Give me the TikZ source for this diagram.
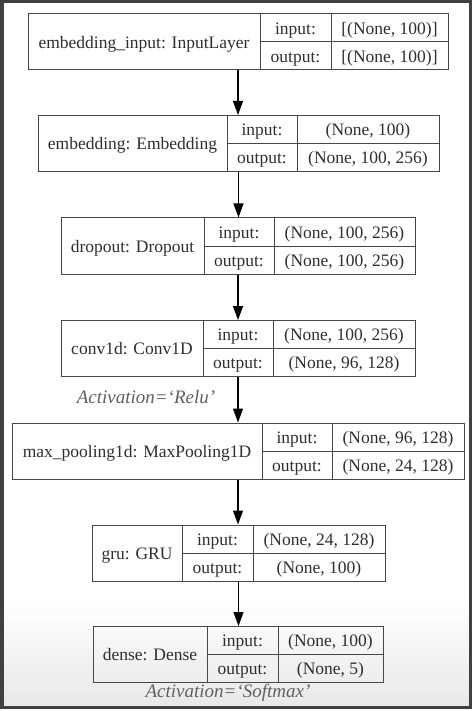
\documentclass[tikz,border=0pt]{standalone}
\usepackage{fontspec}
\setmainfont{Liberation Serif}
\usetikzlibrary{arrows.meta}
\colorlet{linecol}{black!72}
\colorlet{textcol}{black!82}
\tikzset{
	layerbox/.style={rectangle,draw=linecol,line width=1pt,inner sep=0pt,minimum height=56pt},
	cell/.style={rectangle,draw=linecol,line width=1pt,inner sep=0pt,minimum height=28pt,
		text=textcol,text height=12.5pt,text depth=0pt,font=\fontsize{17.5}{20}\selectfont},
	namecell/.style={cell,minimum height=56pt},
	actlabel/.style={text=black!62,inner sep=0pt,font=\fontsize{19}{22}\selectfont\itshape},
	flow/.style={draw=black,line width=1.2pt,-{Triangle[length=14pt,width=10pt]}},
}

\begin{document}
\begin{tikzpicture}[x=1pt,y=-1pt]
 \useasboundingbox (0,0) rectangle (474,711);
 \shade[top color=white,bottom color=black!9] (3,600) rectangle (469,706);
 \draw[line width=3.5pt,black!75] (1.75,1.75) rectangle (470.5,707.5);

 % layers: number/left/divider1/divider2/right/top/name/input/output
 \foreach \n/\xa/\xb/\xc/\xd/\yt/\name/\vin/\vout in {
	1/28/260/331/448/14/{embedding\_input: InputLayer}/{[(None, 100)]}/{[(None, 100)]},
	2/38/227/297/439/115.5/{embedding: Embedding}/{(None, 100)}/{(None, 100, 256)},
	3/61/204/274/415/218/{dropout: Dropout}/{(None, 100, 256)}/{(None, 100, 256)},
	4/61/203/273/415/320.5/{conv1d: Conv1D}/{(None, 100, 256)}/{(None, 96, 128)},
	5/12/262/332/464/423/{max\_pooling1d: MaxPooling1D}/{(None, 96, 128)}/{(None, 24, 128)},
	6/92/182/253/385/525/{gru: GRU}/{(None, 24, 128)}/{(None, 100)},
	7/93/207/278/383/626.5/{dense: Dense}/{(None, 100)}/{(None, 5)}}
 {
	\pgfmathsetmacro\wt{\xd-\xa}
	\pgfmathsetmacro\wa{\xb-\xa}
	\pgfmathsetmacro\wb{\xc-\xb}
	\pgfmathsetmacro\wc{\xd-\xc}
	\node[layerbox,minimum width=\wt pt] (L\n) at ({(\xa+\xd)/2},\yt+28) {};
	\node[namecell,minimum width=\wa pt] (name\n) at ({(\xa+\xb)/2},\yt+28) {\name};
	\node[cell,minimum width=\wb pt] (inl\n) at ({(\xb+\xc)/2},\yt+14) {input:};
	\node[cell,minimum width=\wb pt] (outl\n) at ({(\xb+\xc)/2},\yt+42) {output:};
	\node[cell,minimum width=\wc pt] (inv\n) at ({(\xc+\xd)/2},\yt+14) {\vin};
	\node[cell,minimum width=\wc pt] (outv\n) at ({(\xc+\xd)/2},\yt+42) {\vout};
 }

 \node[actlabel] (act4) at (146,397) {Activation=‘Relu’};
 \node[actlabel] (act7) at (228,692.5) {Activation=‘Softmax’};

 \foreach \i/\j in {1/2,2/3,3/4,4/5,5/6,6/7}
	\draw[flow] (L\i.south) -- (L\i.south |- L\j.north);
\end{tikzpicture}
\end{document}
